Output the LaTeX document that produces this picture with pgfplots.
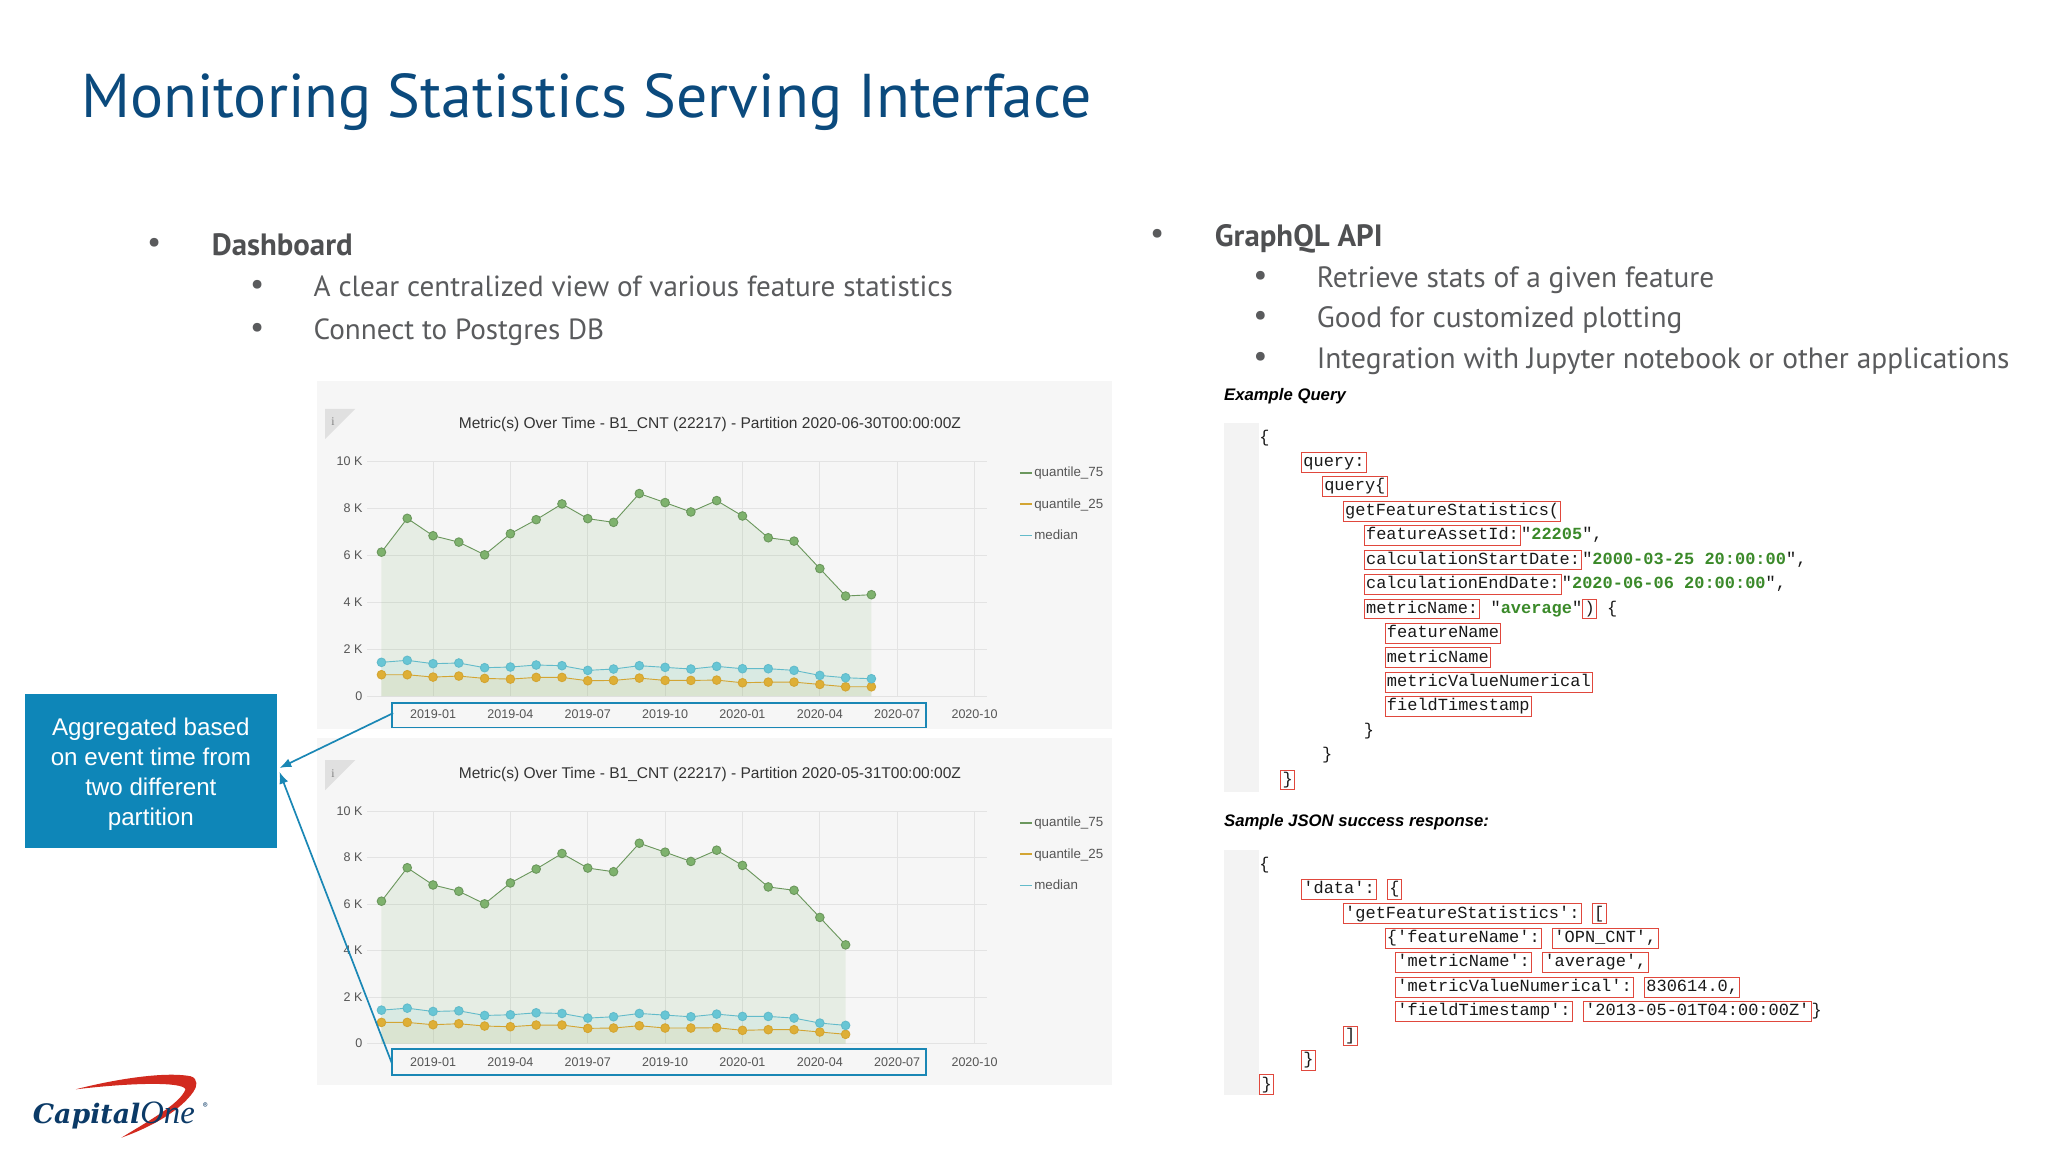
\documentclass[border=0pt]{standalone}
\usepackage{pgfplots}
\usepackage{pgfplotstable}
\pgfplotsset{compat=1.18}
\usepackage{fontspec}
\setmainfont{PT Sans}
\setmonofont{Liberation Mono}
\newfontfamily\arial{Liberation Sans}
\newfontfamily\dvserif{DejaVu Serif}
\newfontfamily\lserif{Liberation Serif}
\usetikzlibrary{arrows.meta}

\definecolor{titleblue}{HTML}{0B4A7D}
\definecolor{bodygrey}{HTML}{5A5B5D}
\definecolor{headgrey}{HTML}{4F5052}
\definecolor{panel}{HTML}{F6F6F6}
\definecolor{gridc}{HTML}{E3E3E3}
\definecolor{ticktxt}{HTML}{555555}
\definecolor{charttitle}{HTML}{333333}
\definecolor{cgreen}{HTML}{7EB26D}
\definecolor{cyellow}{HTML}{EAB839}
\definecolor{cblue}{HTML}{6ED0E0}
\definecolor{annblue}{HTML}{1A87B5}
\definecolor{callout}{HTML}{0E86B8}
\definecolor{codered}{HTML}{E0483D}
\definecolor{codegreen}{HTML}{3B8A2A}
\definecolor{gutter}{HTML}{F3F3F3}
\definecolor{logoblue}{HTML}{0B3A67}
\definecolor{logored}{HTML}{D22A1F}

\pgfplotstableread{
m q75 q25 med
-2 6125 912 1439
-1 7564 912 1524
0 6823 812 1382
1 6553 855 1410
2 6011 755 1211
3 6909 726 1239
4 7507 798 1325
5 8177 798 1296
6 7550 655 1097
7 7393 670 1154
8 8618 769 1296
9 8234 670 1225
10 7835 670 1154
11 8319 684 1268
12 7664 570 1168
13 6738 598 1168
14 6595 598 1097
15 5427 499 883
16 4259 399 783
17 4316 399 741
}\dataA

\pgfplotstableread{
m q75 q25 med
-2 6125 912 1439
-1 7564 912 1524
0 6823 812 1382
1 6553 855 1410
2 6011 755 1211
3 6909 726 1239
4 7507 798 1325
5 8177 798 1296
6 7550 655 1097
7 7393 670 1154
8 8618 769 1296
9 8234 670 1225
10 7835 670 1154
11 8319 684 1268
12 7664 570 1168
13 6738 598 1168
14 6595 598 1097
15 5427 499 883
16 4247 399 783
}\dataB

\pgfplotsset{
 grafana/.style={
  scale only axis, width=475pt,
  xmin=-2.56, xmax=21.5, ymin=0, ymax=10000,
  axis line style={draw=none},
  major tick length=0pt,
  scaled y ticks=false,
  xtick={0,3,6,9,12,15,18,21},
  xticklabels={2019-01,2019-04,2019-07,2019-10,2020-01,2020-04,2020-07,2020-10},
  ytick={0,2000,4000,6000,8000,10000},
  yticklabels={0,2 K,4 K,6 K,8 K,10 K},
  xmajorgrids, ymajorgrids,
  major grid style={gridc, line width=0.6pt},
  tick label style={font=\arial\fontsize{9.6}{11}\selectfont, text=ticktxt},
  xticklabel style={yshift=-7pt},
  legend style={at={(1,1)}, anchor=north west, xshift=24pt, yshift=-3pt,
    draw=none, fill=none, font=\arial\fontsize{10.2}{11}\selectfont, text=ticktxt,
    row sep=12pt, inner sep=0pt, nodes={inner sep=1.5pt}},
  legend cell align=left,
  legend image code/.code={\draw[#1, mark=none, line width=1.2pt] (0pt,0pt) -- (9pt,0pt);},
 },
 serA/.style={cgreen!85!black, line width=0.7pt, mark=*, mark size=3.3pt, mark options={fill=cgreen, draw=none}},
 serB/.style={cyellow!90!black, line width=0.7pt, mark=*, mark size=3.3pt, mark options={fill=cyellow!95!black, draw=none}},
 serC/.style={cblue!90!black, line width=0.7pt, mark=*, mark size=3.3pt, mark options={fill=cblue!95!black, draw=none}},
}

\newcommand{\rb}[1]{{\setlength{\fboxsep}{1pt}\setlength{\fboxrule}{0.7pt}\fcolorbox{codered}{white}{\rule[-3pt]{0pt}{12.5pt}#1}}}
\newcommand{\gs}[1]{"\textcolor{codegreen}{\bfseries #1}"}

\begin{document}
\begin{tikzpicture}[x=1pt,y=1pt]
\useasboundingbox (0,0) rectangle (1568,-882);
\fill[white] (0,0) rectangle (1568,-882);

% title
\node[anchor=base west, inner sep=0pt, text=titleblue, font=\fontsize{47.3}{52}\selectfont] at (62,-90) {Monitoring Statistics Serving Interface};

% left bullets
\tikzset{bul/.style={inner sep=0pt, text=bodygrey, font=\fontsize{24}{24}\selectfont}}
\node[bul] at (118,-188) {\textbullet};
\node[anchor=base west, inner sep=0pt, text=headgrey, font=\bfseries\fontsize{23.6}{26}\selectfont] at (162,-196) {Dashboard};
\node[bul] at (197,-220) {\textbullet};
\node[anchor=base west, inner sep=0pt, text=bodygrey, font=\fontsize{22.3}{24}\selectfont] at (240,-227) {A clear centralized view of various feature statistics};
\node[bul] at (197,-253) {\textbullet};
\node[anchor=base west, inner sep=0pt, text=bodygrey, font=\fontsize{22.3}{24}\selectfont] at (240,-260) {Connect to Postgres DB};

% right bullets
\node[bul] at (886,-181) {\textbullet};
\node[anchor=base west, inner sep=0pt, text=headgrey, font=\bfseries\fontsize{23.6}{26}\selectfont] at (930,-189) {GraphQL API};
\node[bul] at (965,-213) {\textbullet};
\node[anchor=base west, inner sep=0pt, text=bodygrey, font=\fontsize{22.5}{24}\selectfont] at (1008,-220) {Retrieve stats of a given feature};
\node[bul] at (965,-244) {\textbullet};
\node[anchor=base west, inner sep=0pt, text=bodygrey, font=\fontsize{22.5}{24}\selectfont] at (1008,-251) {Good for customized plotting};
\node[bul] at (965,-275) {\textbullet};
\node[anchor=base west, inner sep=0pt, text=bodygrey, font=\fontsize{22.5}{24}\selectfont] at (1008,-282) {Integration with Jupyter notebook or other applications};

% code headings
\node[anchor=base west, inner sep=0pt, font=\arial\bfseries\itshape\fontsize{12.8}{14}\selectfont] at (937,-306.5) {Example Query};
\node[anchor=base west, inner sep=0pt, font=\arial\bfseries\itshape\fontsize{12.8}{14}\selectfont] at (937,-632.5) {Sample JSON success response:};

% gutters
\fill[gutter] (937,-324) rectangle (964,-606);
\fill[gutter] (937,-651) rectangle (964,-838);

\tikzset{code/.style={anchor=base west, inner sep=0pt, font=\ttfamily\fontsize{13}{15}\selectfont, text=black!90}}
% block 1
\node[code] at (964,-338.5) {\{};
\node[code] at (996,-357.2) {\rb{query:}};
\node[code] at (1012,-375.9) {\rb{query\{}};
\node[code] at (1028,-394.6) {\rb{getFeatureStatistics(}};
\node[code] at (1044,-413.3) {\rb{featureAssetId:}\gs{22205},};
\node[code] at (1044,-432.0) {\rb{calculationStartDate:}\gs{2000-03-25 20:00:00},};
\node[code] at (1044,-450.8) {\rb{calculationEndDate:}\gs{2020-06-06 20:00:00},};
\node[code] at (1044,-469.5) {\rb{metricName:}\ \gs{average}\rb{)}\ \{};
\node[code] at (1060,-488.2) {\rb{featureName}};
\node[code] at (1060,-506.9) {\rb{metricName}};
\node[code] at (1060,-525.6) {\rb{metricValueNumerical}};
\node[code] at (1060,-544.3) {\rb{fieldTimestamp}};
\node[code] at (1044,-563.0) {\}};
\node[code] at (1012,-581.7) {\}};
\node[code] at (980,-600.4) {\rb{\}}};
% block 2
\node[code] at (964,-665.5) {\{};
\node[code] at (996,-684.2) {\rb{'data':}\ \rb{\{}};
\node[code] at (1028,-702.9) {\rb{'getFeatureStatistics':}\ \rb{[}};
\node[code] at (1060,-721.6) {\rb{\{'featureName':}\ \rb{'OPN\_CNT',}};
\node[code] at (1068,-740.3) {\rb{'metricName':}\ \rb{'average',}};
\node[code] at (1068,-759.0) {\rb{'metricValueNumerical':}\ \rb{830614.0,}};
\node[code] at (1068,-777.7) {\rb{'fieldTimestamp':}\ \rb{'2013-05-01T04:00:00Z'}\}};
\node[code] at (1028,-796.4) {\rb{]}};
\node[code] at (996,-815.1) {\rb{\}}};
\node[code] at (964,-833.8) {\rb{\}}};

% panels
\fill[panel] (243,-292) rectangle (851,-558);
\fill[panel] (243,-565) rectangle (851,-831);
\fill[black!12] (249,-313) -- (272,-313) -- (249,-336) -- cycle;
\node[text=black!50, font=\lserif\fontsize{9}{9}\selectfont] at (255,-323) {i};
\fill[black!12] (249,-582) -- (272,-582) -- (249,-605) -- cycle;
\node[text=black!50, font=\lserif\fontsize{9}{9}\selectfont] at (255,-592) {i};
\node[text=charttitle, font=\arial\fontsize{11.9}{13}\selectfont] at (543.5,-325) {Metric(s) Over Time - B1\_CNT (22217) - Partition 2020-06-30T00:00:00Z};
\node[text=charttitle, font=\arial\fontsize{11.9}{13}\selectfont] at (543.5,-593) {Metric(s) Over Time - B1\_CNT (22217) - Partition 2020-05-31T00:00:00Z};

% chart 1
\begin{axis}[grafana, height=180pt, at={(281pt,-533pt)}, anchor=south west]
\addplot[draw=none, fill=cgreen, fill opacity=0.13, forget plot] table[x=m,y=q75]{\dataA} \closedcycle;
\addplot[draw=none, fill=cblue, fill opacity=0.10, forget plot] table[x=m,y=med]{\dataA} \closedcycle;
\addplot[draw=none, fill=cyellow, fill opacity=0.10, forget plot] table[x=m,y=q25]{\dataA} \closedcycle;
\addplot[serA] table[x=m,y=q75]{\dataA};
\addlegendentry{quantile\_75}
\addplot[serB] table[x=m,y=q25]{\dataA};
\addlegendentry{quantile\_25}
\addplot[serC] table[x=m,y=med]{\dataA};
\addlegendentry{median}
\end{axis}

% chart 2
\begin{axis}[grafana, height=178pt, at={(281pt,-799pt)}, anchor=south west]
\addplot[draw=none, fill=cgreen, fill opacity=0.13, forget plot] table[x=m,y=q75]{\dataB} \closedcycle;
\addplot[draw=none, fill=cblue, fill opacity=0.10, forget plot] table[x=m,y=med]{\dataB} \closedcycle;
\addplot[draw=none, fill=cyellow, fill opacity=0.10, forget plot] table[x=m,y=q25]{\dataB} \closedcycle;
\addplot[serA] table[x=m,y=q75]{\dataB};
\addlegendentry{quantile\_75}
\addplot[serB] table[x=m,y=q25]{\dataB};
\addlegendentry{quantile\_25}
\addplot[serC] table[x=m,y=med]{\dataB};
\addlegendentry{median}
\end{axis}

% annotation boxes
\draw[annblue, line width=1.5pt] (300,-538) rectangle (709,-557);
\draw[annblue, line width=1.5pt] (300,-803) rectangle (709,-823);

% callout
\fill[callout] (19,-531) rectangle (212,-649);
\node[align=center, text=white, font=\arial\fontsize{18.5}{23}\selectfont] at (115.5,-593) {Aggregated based\\on event time from\\two different\\partition};
\draw[annblue, line width=1.3pt, -{Latex[length=9pt,width=7pt]}] (301,-546) -- (214,-588);
\draw[annblue, line width=1.3pt, -{Latex[length=9pt,width=7pt]}] (300,-814) -- (214,-591);

% logo
\fill[logored] (58,-834) .. controls (85,-827) and (125,-820) .. (146,-824)
  .. controls (152,-826) and (151,-832) .. (148,-836)
  .. controls (138,-850) and (118,-862) .. (93,-871)
  .. controls (114,-858) and (138,-845) .. (142,-834)
  .. controls (140,-828) and (100,-829) .. (58,-834) -- cycle;
\node[anchor=base west, inner sep=0pt, text=logoblue] at (25,-860) {{\dvserif\bfseries\itshape\fontsize{20.5}{22}\selectfont Capital}{\lserif\itshape\fontsize{25}{28}\selectfont One}};
\node[anchor=base west, inner sep=0pt, text=logoblue, font=\fontsize{6}{6}\selectfont] at (155,-849) {\textregistered};
\end{tikzpicture}
\end{document}
